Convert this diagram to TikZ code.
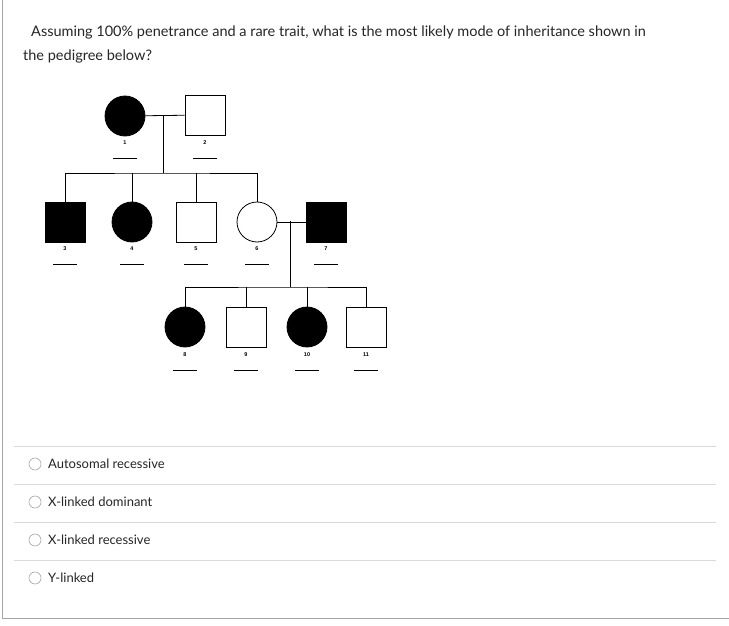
\documentclass[tikz,border=0pt]{standalone}
\usepackage{fontspec}
\setmainfont{Lato}
\setsansfont{Liberation Sans}
\begin{document}
\begin{tikzpicture}[x=1pt,y=-1pt,
  fem/.style={circle,draw,line width=0.8pt,minimum size=40pt,inner sep=0pt},
  mal/.style={rectangle,draw,line width=0.8pt,minimum size=40pt,inner sep=0pt},
  aff/.style={fill=black},
  unaff/.style={fill=white},
  lbl/.style={font=\sffamily\bfseries\fontsize{5.5}{6}\selectfont,inner sep=0pt},
  uline/.style={line width=0.5pt},
  ln/.style={line width=0.8pt},
  sep/.style={draw=gray!30,line width=0.8pt},
  radio/.style={circle,draw=gray!70,line width=0.6pt,minimum size=12pt,inner sep=0pt},
  opt/.style={anchor=west,inner sep=0pt,font=\fontsize{13}{15}\selectfont,text=black!85}]
\useasboundingbox (0,0) rectangle (729,626);
\fill[white] (0,0) rectangle (729,626);
\draw[gray!70,line width=1pt] (2,0) -- (2,618) -- (729,618);
\node[anchor=base west,inner sep=0pt,font=\fontsize{14.5}{17}\selectfont,text=black!85] (t1) at (31,37) {Assuming 100\% penetrance and a rare trait, what is the most likely mode of inheritance shown in};
\node[anchor=base west,inner sep=0pt,font=\fontsize{14.5}{17}\selectfont,text=black!85] (t2) at (23,61) {the pedigree below?};
% generation I
\node[fem,aff] (p1) at (125,116) {};
\node[mal,unaff] (p2) at (205,115) {};
\coordinate (m1) at (163,115);
\coordinate (s1) at (163,173);
\draw[ln] (p1) -- (p2);
\draw[ln] (m1) -- (s1);
% generation II
\node[mal,aff] (p3) at (65,222) {};
\node[fem,aff] (p4) at (132,222) {};
\node[mal,unaff] (p5) at (196,222) {};
\node[fem,unaff] (p6) at (257,222) {};
\node[mal,aff] (p7) at (326,222) {};
\draw[ln] (p3.north) |- (s1) -| (p6.north);
\draw[ln] (p4.north) -- (p4.north |- s1);
\draw[ln] (p5.north) -- (p5.north |- s1);
\coordinate (m2) at (290,221);
\coordinate (s2) at (290,287);
\draw[ln] (p6) -- (p7);
\draw[ln] (m2) -- (s2);
% generation III
\node[fem,aff] (p8) at (185,327) {};
\node[mal,unaff] (p9) at (246,327) {};
\node[fem,aff] (p10) at (307,327) {};
\node[mal,unaff] (p11) at (366,327) {};
\draw[ln] (p8.north) |- (s2) -| (p11.north);
\draw[ln] (p9.north) -- (p9.north |- s2);
\draw[ln] (p10.north) -- (p10.north |- s2);
% labels
\foreach \n/\x/\y in {1/125/143,2/205/143,3/65/249,4/132/249,5/196/249,6/257/249,7/326/249,8/185/355,9/246/355,10/307/355,11/366/355}{
  \node[lbl] (l\n) at (\x,\y) {\n};
  \draw[uline] ([xshift=-12pt,yshift=-15pt]l\n.center) -- ([xshift=12pt,yshift=-15pt]l\n.center);
}
% options
\foreach \yy in {446,484,522,560}{\draw[sep] (14,\yy) -- (716,\yy);}
\foreach \i/\yy/\t in {a/464/Autosomal recessive,b/502/X-linked dominant,c/540/X-linked recessive,d/578/Y-linked}{
  \node[radio] (r\i) at (35,\yy) {};
  \node[opt] (o\i) at (48,\yy) {\t};
}
\end{tikzpicture}
\end{document}
